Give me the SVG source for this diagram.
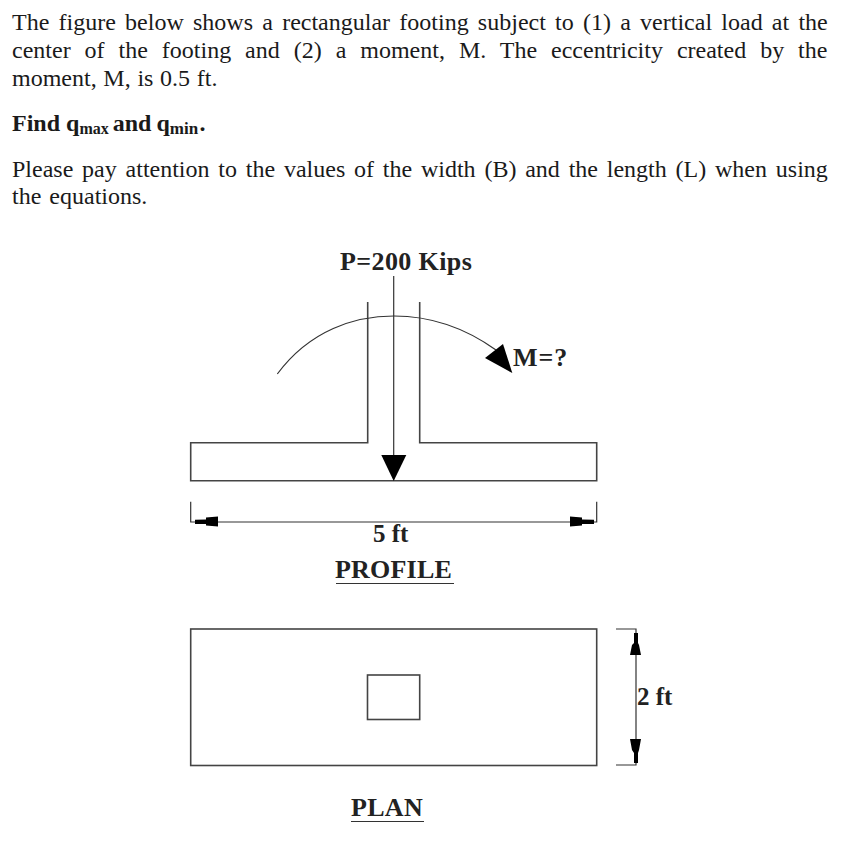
<svg xmlns="http://www.w3.org/2000/svg" width="846" height="854" viewBox="0 0 846 854">
<style>
text{font-family:"Liberation Serif","Times New Roman",serif;fill:#1a1a1a}
.body{font-size:24px}
.bold{font-weight:bold}
.lbl{font-size:26px;font-weight:bold;fill:#222}
.ln{fill:none;stroke:#444;stroke-width:1.6}
.thin{fill:none;stroke:#333;stroke-width:1.2}
.head{fill:#000;stroke:none}
</style>
<rect width="846" height="854" fill="#fff"/>
<g id="problem-text">
<text class="body" x="12" y="30" word-spacing="3.24">The figure below shows a rectangular footing subject to (1) a vertical load at the</text>
<text class="body" x="12" y="58" word-spacing="7.96">center of the footing and (2) a moment, M. The eccentricity created by the</text>
<text class="body" x="12" y="86" word-spacing="0.7">moment, M, is 0.5 ft.</text>
<text class="body bold" x="12" y="131">Find q<tspan font-size="16" dy="3">max</tspan><tspan dy="-3" dx="-2"> and </tspan><tspan dx="-1">q</tspan><tspan font-size="17" dy="3">min</tspan><tspan dy="-3" dx="1.5">.</tspan></text>
<text class="body" x="12" y="177" word-spacing="2.8">Please pay attention to the values of the width (B) and the length (L) when using</text>
<text class="body" x="12" y="204" word-spacing="2">the equations.</text>
</g>
<g id="profile-footing">
<path class="ln" d="M367.7 302V442.7H190.7V480.7H596.7V442.7H419.7V302"/>
</g>
<g id="plan-footing"><rect class="ln" x="190.7" y="629" width="406" height="136.5"/></g>
<g id="plan-column"><rect class="ln" x="367.5" y="675" width="52.2" height="44.5"/></g>
<g id="connectors">
<path class="thin" d="M393.7 276V470"/>
<polygon class="head" points="381.3,455 406.3,455 393.7,481"/>
<path class="thin" d="M277.3 374C310 330 355 316 394 316C435 316 468 330 496 350"/>
<polygon class="head" points="512.3,373 503,344 485,358"/>
<path class="thin" d="M190.7 501.7V522H596.7V501.7"/>
<polygon class="head" points="195,519.8 206,519.6 206,517.5 218,516.5 218,526.5 206,525.5 206,524 195,524"/>
<polygon class="head" points="594,519.8 582,519.6 582,517.5 570,516.5 570,526.5 582,525.5 582,524 594,524"/>
<path class="thin" d="M616 629H636V765H616"/>
<polygon class="head" points="634,633 634,643 632,645 630,655 641,655 639,645 638,643 638,633"/>
<polygon class="head" points="634,763 634,753 632,750 630,739 641,739 639,750 638,753 638,763"/>
<path class="thin" d="M336 583.5H454M351 821.5H424"/>
</g>
<g id="label-load"><text class="lbl" x="340" y="270" letter-spacing="0.4">P=200 Kips</text></g>
<g id="label-moment"><text class="lbl" x="513" y="366" letter-spacing="1">M=?</text></g>
<g id="label-length"><text class="lbl" x="373" y="542" style="font-size:25px">5 ft</text></g>
<g id="label-profile"><text class="lbl" x="335" y="578" letter-spacing="0.2">PROFILE</text></g>
<g id="label-width"><text class="lbl" x="637" y="705" style="font-size:25px">2 ft</text></g>
<g id="label-plan"><text class="lbl" x="351" y="816" letter-spacing="0.3">PLAN</text></g>
</svg>
